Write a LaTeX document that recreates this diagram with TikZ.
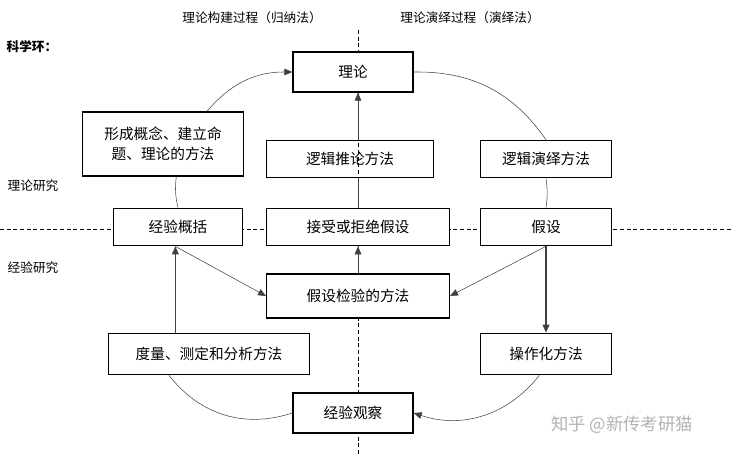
\documentclass[tikz,border=0pt]{standalone}
\usepackage{fontspec}
\setmainfont{Liberation Serif}
\newfontfamily\cjk{Noto Sans CJK SC}
\usetikzlibrary{arrows.meta,positioning}
\tikzstyle{block} = [rectangle, draw, line width=1pt, inner sep=0pt, font=\cjk\fontsize{11}{15}\selectfont, align=center]
\tikzstyle{line} = [draw, black!75, -{Triangle[length=6pt,width=5pt]}]
\tikzstyle{link} = [draw, black!75]
\tikzstyle{axis} = [draw, densely dashed, thin]
\tikzset{
    every node/.style={font=\cjk\fontsize{9.5}{12}\selectfont}
}
\begin{document}
\begin{tikzpicture}[x=0.75pt,y=-0.75pt]
            \useasboundingbox (0,0) rectangle (732,455);
            % Axes
            \draw [axis] (0,229) -- (732,229);
            \draw [axis] (358,30) -- (358,455);

            % Headings
            \node (induct) at (252,18) {理论构建过程（归纳法）};
            \node (deduct) at (470,18) {理论演绎过程（演绎法）};
            \node (ring) at (32,47) {\bfseries 科学环：};
            \node (theo) at (33,186) {理论研究};
            \node (emp) at (33,268) {经验研究};

            % Blocks
            \node [block, minimum width=90pt, minimum height=30pt, fill=white] (theory) at (353,72) {理论};
            \node [block, minimum width=121pt, minimum height=48pt] (concept) at (163,144) {形成概念、建立命\\题、理论的方法};
            \node [block, minimum width=125pt, minimum height=28pt] (infer) at (350,159) {逻辑推论方法};
            \node [block, minimum width=98pt, minimum height=28pt] (deduce) at (546,159) {逻辑演绎方法};
            \node [block, minimum width=97pt, minimum height=28pt, fill=white] (general) at (178,227) {经验概括};
            \node [block, minimum width=137pt, minimum height=28pt, fill=white] (accept) at (358,227) {接受或拒绝假设};
            \node [block, minimum width=98pt, minimum height=28pt, fill=white] (hypo) at (546,227) {假设};
            \node [block, minimum width=137pt, minimum height=33pt, fill=white] (test) at (358,296) {假设检验的方法};
            \node [block, minimum width=151pt, minimum height=31pt] (measure) at (209,354) {度量、测定和分析方法};
            \node [block, minimum width=98pt, minimum height=31pt] (oper) at (546,354) {操作化方法};
            \node [block, minimum width=90pt, minimum height=30pt, fill=white] (observe) at (353,413) {经验观察};

            % Connect everything
            \path [line] (concept.north east) ++(-28pt,0) coordinate (c1) to[bend left=25] (theory.west);
            \path [link] (theory.east) to[bend left=28] (deduce.north);
            \path [link] (concept.south) ++(10pt,0) coordinate (c2) to[bend right=10] (general.north);
            \path [link] (deduce.south) to[bend left=8] (hypo.north);
            \path [link] (accept.north) -- (infer.south -| accept.north);
            \path [line] (infer.north -| accept.north) -- (theory.south -| accept.north);
            \path [line] (test.north) -- (accept.south);
            \path [line] (general.south) ++(-2pt,0) coordinate (g1) -- (test.west);
            \path [line] (hypo.south) -- (test.east);
            \path [line, very thick] (hypo.south) -- (oper.north);
            \path [line, thick] (measure.north -| g1) -- (g1);
            \path [link] (measure.south) ++(-30pt,0) coordinate (m1) to[bend right=35] (observe.west);
            \path [line] (oper.south) ++(-5pt,0) coordinate (o1) to[bend left=35] (observe.east);

            % Watermark
            \node [gray!60, font=\cjk\fontsize{13}{16}\selectfont] (mark) at (622,425) {知乎 @新传考研猫};
        \end{tikzpicture}
\end{document}
